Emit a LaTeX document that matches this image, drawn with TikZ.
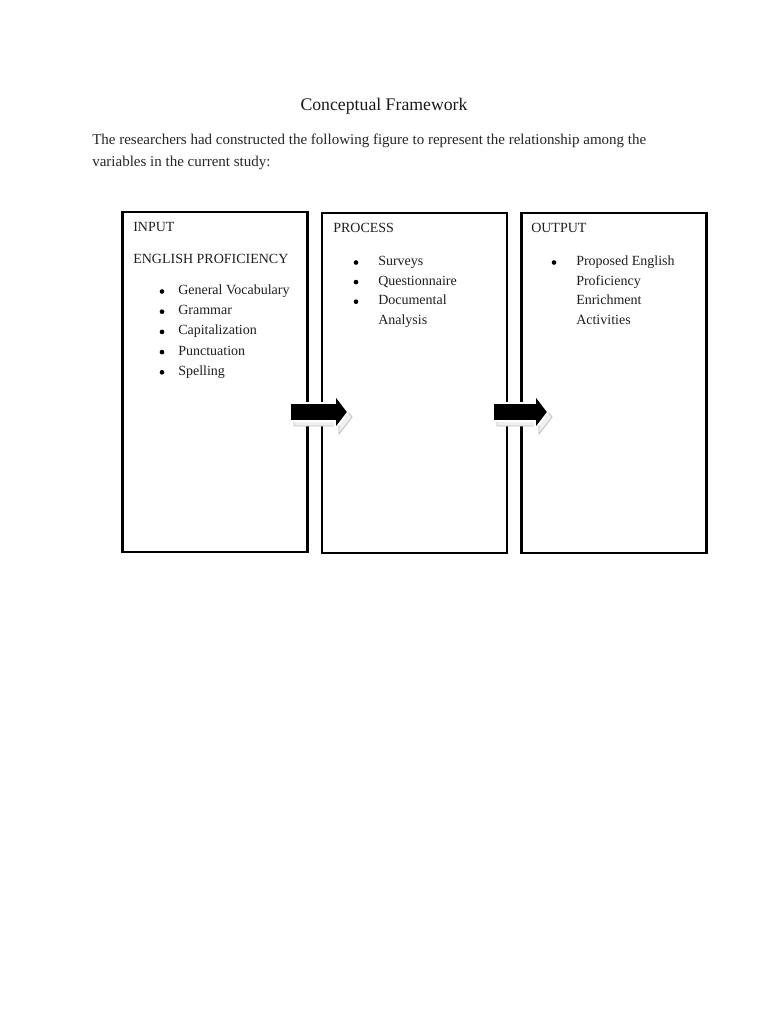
\documentclass[tikz,border=0pt]{standalone}
\usepackage{fontspec}
\setmainfont{Liberation Serif}
\begin{document}
\begin{tikzpicture}[x=0.75pt,y=-0.75pt,
  box/.style={draw=black, line width=1.9pt, minimum width=138.75pt, minimum height=255pt, inner sep=0pt},
  txt/.style={anchor=base west, inner sep=0pt, text=black!88, font=\fontsize{10.5pt}{12pt}\selectfont},
  partxt/.style={anchor=base west, inner sep=0pt, text=black!85, font=\fontsize{11.25pt}{13pt}\selectfont},
  ttl/.style={anchor=base, inner sep=0pt, text=black!90, font=\fontsize{13.3pt}{15pt}\selectfont},
  bul/.style={circle, fill=black, inner sep=0pt, minimum size=3.5pt},
  arrowfill/.style={fill=black, draw=white, line width=1.2pt, line join=miter},
  arrowshadow/.style={fill=gray!12, draw=gray!50, line width=0.6pt, line join=miter}]
\useasboundingbox (0,0) rectangle (768,1024);
\fill[white] (0,0) rectangle (768,1024);

% title and paragraph
\node[ttl] (title) at (384,110) {Conceptual Framework};
\node[partxt] (para1) at (92,144.5) {The researchers had constructed the following figure to represent the relationship among the};
\node[partxt] (para2) at (92,166.5) {variables in the current study:};

% boxes
\node[box] (input) at (215,382) {};
\node[box] (process) at (414.5,383) {};
\node[box] (output) at (614,383) {};

% INPUT box texts
\node[txt] (inh) at (133,231) {INPUT};
\node[txt] (eng) at (133,263) {ENGLISH PROFICIENCY};
\node[bul] (ib1) at (162,291.5) {};
\node[txt] (i1) at (178,294.5) {General Vocabulary};
\node[bul] (ib2) at (162,311.7) {};
\node[txt] (i2) at (178,314.7) {Grammar};
\node[bul] (ib3) at (162,331.9) {};
\node[txt] (i3) at (178,334.9) {Capitalization};
\node[bul] (ib4) at (162,352.1) {};
\node[txt] (i4) at (178,355.1) {Punctuation};
\node[bul] (ib5) at (162,372.3) {};
\node[txt] (i5) at (178,375.3) {Spelling};

% PROCESS box texts
\node[txt] (prh) at (333,232.5) {PROCESS};
\node[bul] (pb1) at (356,262.5) {};
\node[txt] (p1) at (378,265.5) {Surveys};
\node[bul] (pb2) at (356,282.1) {};
\node[txt] (p2) at (378,285.1) {Questionnaire};
\node[bul] (pb3) at (356,301.7) {};
\node[txt] (p3a) at (378,304.7) {Documental};
\node[txt] (p3b) at (378,324.3) {Analysis};

% OUTPUT box texts
\node[txt] (outh) at (531,232.5) {OUTPUT};
\node[bul] (ob1) at (554,262.5) {};
\node[txt] (o1a) at (576,265.5) {Proposed English};
\node[txt] (o1b) at (576,285.1) {Proficiency};
\node[txt] (o1c) at (576,304.7) {Enrichment};
\node[txt] (o1d) at (576,324.3) {Activities};

% block arrows between boxes
\coordinate (a1) at (290,412);
\coordinate (a2) at (493,412);
\begin{scope}[shift={(a1)}]
  \draw[arrowshadow] (4,-4) -- (49,-4) -- (49,-12) -- (62,5) -- (49,22) -- (49,14) -- (4,14) -- cycle;
  \draw[arrowfill] (0,-9) -- (45,-9) -- (45,-17) -- (58,0) -- (45,17) -- (45,9) -- (0,9) -- cycle;
\end{scope}
\begin{scope}[shift={(a2)}]
  \draw[arrowshadow] (4,-4) -- (46,-4) -- (46,-12) -- (59,5) -- (46,22) -- (46,14) -- (4,14) -- cycle;
  \draw[arrowfill] (0,-9) -- (42,-9) -- (42,-17) -- (55,0) -- (42,17) -- (42,9) -- (0,9) -- cycle;
\end{scope}
\end{tikzpicture}
\end{document}
